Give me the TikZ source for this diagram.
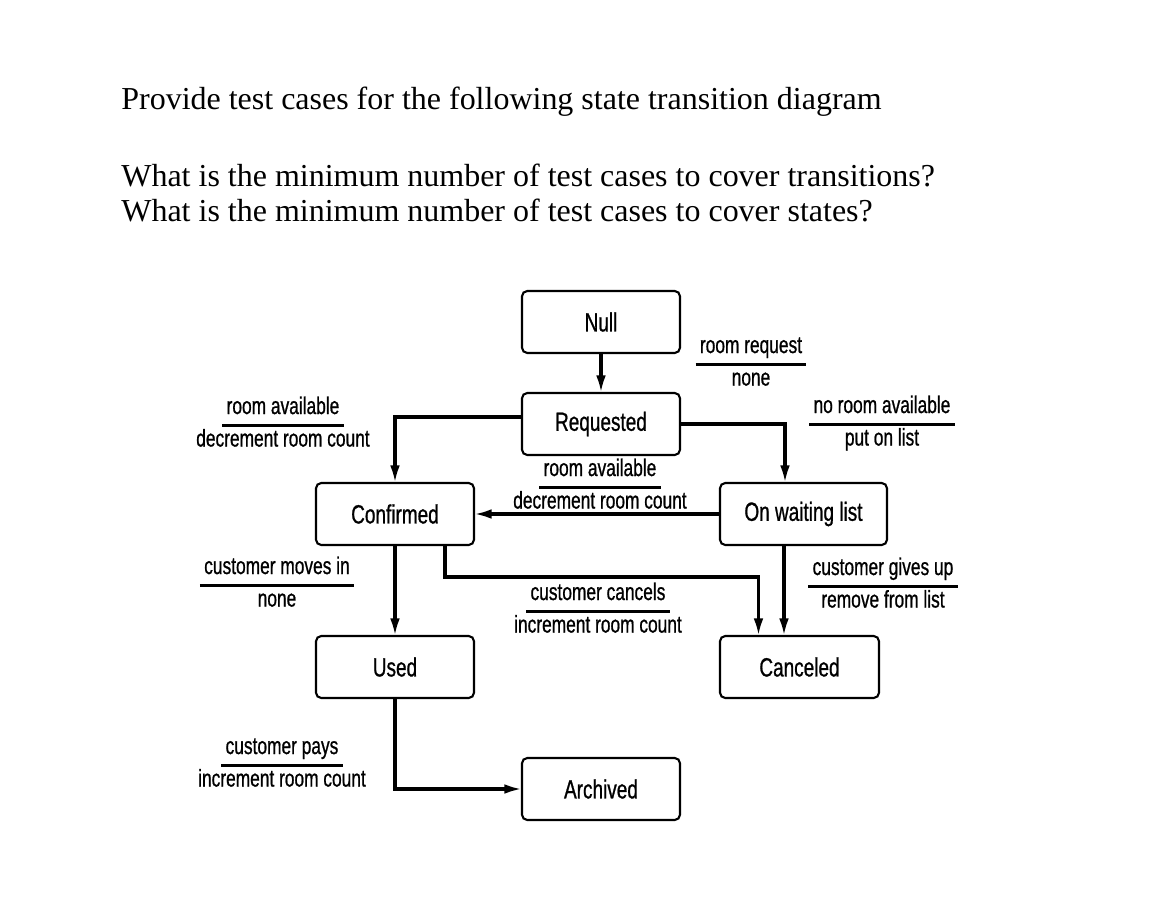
\documentclass[tikz,border=0pt]{standalone}
\usepackage{fontspec}
\usepackage{calc}
\setmainfont{Liberation Serif}
\newfontfamily\handfont[FakeStretch=0.72,FakeBold=0.8]{Liberation Sans}
\usetikzlibrary{positioning, calc, arrows.meta}

% event over action, split by a thick rule
\newcommand{\trans}[2]{\begin{tabular}{@{}c@{}}#1\\[-7.5pt]\rule{\widthof{#1}+5pt}{1.6pt}\\[-4pt]#2\end{tabular}}

\begin{document}
\begin{tikzpicture}[
        node distance=0.8cm and 0.96cm,
        state/.style={rectangle, rounded corners=3pt, draw=black, line width=1.2pt, outer sep=0pt, minimum width=3.16cm, minimum height=1.24cm, align=center, font=\handfont\fontsize{15}{18}\selectfont},
        arrow/.style={-{Latex[length=10pt,width=5.5pt]}, line width=1.8pt, draw=black},
        guard/.style={font=\handfont\fontsize{13.7}{15}\selectfont, inner sep=0pt},
        question/.style={anchor=base west, inner sep=0pt, font=\fontsize{18.2}{21}\selectfont}
    ]
        \useasboundingbox (-12.02,6.44) rectangle (11.02,-12.0);

        % --- TEXT ---
        \node[question] (task) at (-9.6,4.24) {Provide test cases for the following state transition diagram};
        \node[question] (qtrans) at (-9.6,2.72) {What is the minimum number of test cases to cover transitions?};
        \node[question] (qstates) at (-9.6,2.02) {What is the minimum number of test cases to cover states?};

        % --- STATES ---
        \node[state] (null) at (0,0) {Null};
        \node[state, below=of null] (requested) {Requested};
        \node[state, below left=0.56cm and 0.96cm of requested] (confirmed) {Confirmed};
        \node[state, minimum width=3.34cm, below right=0.56cm and 0.8cm of requested] (waiting) {On waiting list};
        \node[state, below=1.82cm of confirmed] (used) {Used};
        \node[state, minimum width=3.18cm, right=4.92cm of used] (canceled) {Canceled};
        \node[state, below right=1.2cm and 0.96cm of used] (archived) {Archived};

        % --- TRANSITIONS ---
        \draw[arrow] (null) -- (requested);
        \draw[arrow] ([yshift=0.14cm]requested.west) -| (confirmed.north);
        \draw[arrow] (requested.east) -| ([xshift=-0.37cm]waiting.north);
        \draw[arrow] (waiting) -- (confirmed);
        \draw[arrow] (confirmed) -- (used);
        \draw[arrow] ([xshift=1cm]confirmed.south) -- ++(0,-0.64) -| ([xshift=-0.82cm]canceled.north);
        \draw[arrow] ([xshift=-0.39cm]waiting.south) -- ([xshift=-0.39cm]waiting.south |- canceled.north);
        \draw[arrow] (used) |- (archived);

        % --- GUARDS ---
        \node[guard] (gRequest) at (3.0,-0.84) {\trans{room request}{none}};
        \node[guard] (gAvailLeft) at (-6.36,-2.06) {\trans{room available}{decrement room count}};
        \node[guard] (gAvailMid) at (-0.02,-3.30) {\trans{room available}{decrement room count}};
        \node[guard] (gNoRoom) at (5.62,-2.04) {\trans{no room available}{put on list}};
        \node[guard] (gMovesIn) at (-6.48,-5.26) {\trans{customer moves in}{none}};
        \node[guard] (gCancels) at (-0.06,-5.78) {\trans{customer cancels}{increment room count}};
        \node[guard] (gGivesUp) at (5.64,-5.28) {\trans{customer gives up}{remove from list}};
        \node[guard] (gPays) at (-6.38,-8.86) {\trans{customer pays}{increment room count}};

    \end{tikzpicture}
\end{document}
